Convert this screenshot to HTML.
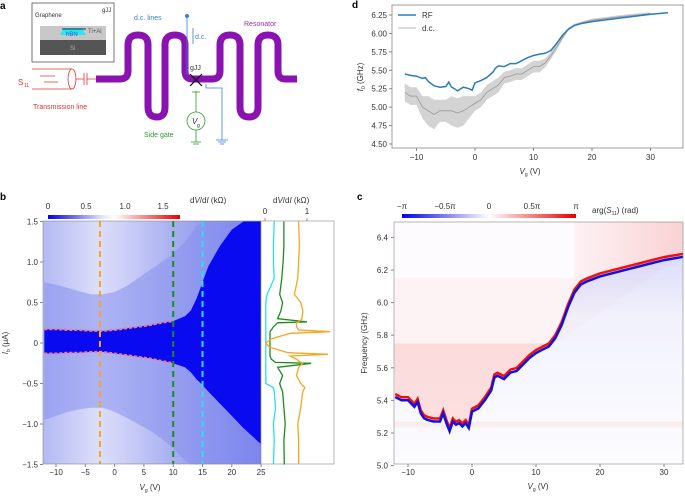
<!DOCTYPE html>
<html><head><meta charset="utf-8"><style>
body{margin:0;background:#fff;}
svg{display:block;font-family:"Liberation Sans",sans-serif;}
text{font-size:8px;fill:#333;}
</style></head><body>
<svg id="fig" width="685" height="497" viewBox="0 0 685 497">
<defs>
<linearGradient id="cbB" x1="0" x2="1"><stop offset="0" stop-color="#0000e8"/><stop offset="0.4" stop-color="#dfe0fa"/><stop offset="0.5" stop-color="#fff"/><stop offset="1" stop-color="#e80000"/></linearGradient>
<linearGradient id="cbC" x1="0" x2="1"><stop offset="0" stop-color="#0000e8"/><stop offset="0.5" stop-color="#fff"/><stop offset="1" stop-color="#e80000"/></linearGradient>
<linearGradient id="bgB" x1="0" x2="1"><stop offset="0" stop-color="#b3b9f3"/><stop offset="0.25" stop-color="#dcdefa"/><stop offset="0.35" stop-color="#d0d3f8"/><stop offset="0.6" stop-color="#a7aff0"/><stop offset="1" stop-color="#6f7aee"/></linearGradient>
<linearGradient id="pinkL" x1="0" y1="0" x2="0" y2="1"><stop offset="0" stop-color="#fbd6d6"/><stop offset="1" stop-color="#fde0e0"/></linearGradient>
<linearGradient id="pinkR" x1="0" y1="0" x2="1" y2="0"><stop offset="0" stop-color="#fdf2f3"/><stop offset="1" stop-color="#f9d2d4"/></linearGradient>
<linearGradient id="blueB" x1="0" y1="0" x2="0" y2="1"><stop offset="0" stop-color="#d4d8fb"/><stop offset="0.3" stop-color="#f0f1fd"/><stop offset="1" stop-color="#fcfcff"/></linearGradient>
</defs>

<g>
<text x="0" y="9" style="font-size:10px;font-weight:bold;fill:#000">a</text>
<rect x="32" y="3" width="82" height="59" fill="#fff" stroke="#555" stroke-width="0.8"/>
<rect x="40" y="26" width="66" height="15" fill="#c8c8c8"/>
<rect x="40" y="40" width="66" height="15" fill="#555"/>
<polygon points="60,35 64,28 82,28 86,35" fill="#2ee6f0"/>
<line x1="62" y1="29" x2="86" y2="29" stroke="#000" stroke-width="0.8"/>
<text x="35" y="17" style="font-size:6px">Graphene</text>
<text x="66" y="36" style="font-size:6px;fill:#1a5ad0">hBN</text>
<text x="88" y="33" style="font-size:6px;fill:#555">Ti+Al</text>
<text x="70" y="50" style="font-size:6px;fill:#aaa">Si</text>
<text x="102" y="12" style="font-size:6px">gJJ</text>
<path d="M96,79 L120,79 Q128,79 128,71 L128,45 Q128,35 138,35 Q148,35 148,45 L148,107 Q148,117 157,117 Q165,117 165,107 L165,45 Q165,35 175,35 Q185,35 185,45 L185,71 Q185,79 192,79 L212,79 Q220,79 220,71 L220,45 Q220,35 230,35 Q240,35 240,45 L240,107 Q240,117 249,117 Q258,117 258,107 L258,45 Q258,35 268,35 Q278,35 278,45 L278,71 Q278,79 285,79 L297,79" fill="none" stroke="#8a12b0" stroke-width="7"/>
<g stroke="#e83030" fill="none" stroke-width="0.8">
<path d="M32,69 L72,69 M32,89 L72,89"/><ellipse cx="72" cy="79" rx="4" ry="10"/>
<path d="M76,79 L84,79 M84,73 L84,85 M87,73 L87,85 M87,79 L96,79"/>
<path d="M40,76 L55,76 M44,82 L58,82"/>
</g>
<text x="18" y="85" style="font-size:8px;fill:#e83030">S</text><text x="24" y="87" style="font-size:5px;fill:#e83030">11</text>
<text x="33" y="109" style="font-size:7px;fill:#e83030">Transmission line</text>
<text x="134" y="20" style="font-size:7px;fill:#3a7ee0">d.c. lines</text>
<text x="244" y="26" style="font-size:7px;fill:#9a2ab8">Resonator</text>
<g stroke="#3a7ee0" fill="none" stroke-width="0.8"><circle cx="187" cy="16" r="1.6" fill="#3a7ee0"/><path d="M187,16 L187,75 M193,28 L193,44 M206,84 L206,88 L222,88 L222,140 M216,140 L228,140 M218,142 L226,142 M220,144 L224,144"/></g>
<text x="195" y="39" style="font-size:7px;fill:#3a7ee0">d.c.</text>
<text x="190" y="70" style="font-size:7px">gJJ</text>
<path d="M190,74 L202,86 M202,74 L190,86" stroke="#000" stroke-width="1.2"/>
<g stroke="#2a9a2a" fill="none" stroke-width="0.8"><path d="M196,91 L196,112 M192,92 L200,92 M196,130 L196,142 M191,142 L201,142 M193,144 L199,144"/><circle cx="196" cy="121" r="9"/></g>
<text x="192" y="124" style="font-size:8px;font-style:italic">V</text><text x="197" y="127" style="font-size:5px">g</text>
<text x="144" y="137" style="font-size:7px;fill:#2a9a2a">Side gate</text>
</g>

<g id="pd">
<text x="352" y="8" style="font-size:10px;font-weight:bold;fill:#000">d</text>
<rect x="392" y="5" width="291" height="143" fill="none" stroke="#888" stroke-width="0.8"/>
</g>
<g id="pb">
<text x="0" y="200" style="font-size:10px;font-weight:bold;fill:#000">b</text>
</g>
<g id="pc">
<text x="357" y="200" style="font-size:10px;font-weight:bold;fill:#000">c</text>
</g>
</svg>
<script>
const rfVg = [-12,-11,-10,-9,-8.5,-8,-7,-6,-5,-4.5,-4,-3.5,-3,-2,-1,-0.5,0,1,2,3,3.5,4,5,6,7,8,9,10,11,12,13,14,15,16,17,18,20,25,30,33];
const rfF  = [5.45,5.43,5.42,5.39,5.40,5.35,5.29,5.27,5.28,5.34,5.27,5.25,5.22,5.27,5.25,5.23,5.33,5.36,5.40,5.47,5.53,5.56,5.55,5.59,5.59,5.63,5.67,5.70,5.72,5.73,5.77,5.87,5.98,6.06,6.11,6.13,6.16,6.21,6.26,6.28];
const dcVg = [-12,-11,-10,-9,-8,-7,-6,-5,-4,-3,-2,-1,0,1,2,3,4,5,6,7,8,9,10,11,12,13,14,15,16,17,18,20,25,30];
const dcF  = [5.20,5.15,5.15,5.00,4.95,4.90,4.95,4.95,4.95,4.92,4.95,5.00,5.05,5.10,5.20,5.25,5.30,5.40,5.42,5.45,5.45,5.50,5.55,5.55,5.60,5.70,5.82,5.95,6.06,6.11,6.14,6.18,6.23,6.27];
const dcW  = [0.12,0.12,0.12,0.15,0.2,0.2,0.15,0.15,0.2,0.2,0.2,0.15,0.1,0.1,0.1,0.1,0.1,0.08,0.08,0.08,0.08,0.08,0.08,0.08,0.06,0.05,0.04,0.03,0.02,0.02,0.02,0.02,0.02,0.02];
const dTicksX = [-10,0,10,20,30];
const dTicksY = [4.50,4.75,5.00,5.25,5.50,5.75,6.00,6.25];
const gapVg  = [-12,-10,-8,-6,-4,-2,0,2,4,6,8,10,12,13,14,15,16,18,20,22,25];
const gapTop = [0.17,0.17,0.16,0.16,0.15,0.15,0.16,0.18,0.2,0.22,0.25,0.27,0.33,0.4,0.55,0.75,0.95,1.2,1.4,1.5,1.5];
const gapBot = [-0.13,-0.13,-0.12,-0.12,-0.11,-0.11,-0.13,-0.15,-0.17,-0.19,-0.22,-0.25,-0.3,-0.36,-0.45,-0.52,-0.6,-0.75,-0.9,-1.05,-1.25];
const bandTop = [0.75,0.72,0.68,0.64,0.6,0.6,0.63,0.7,0.8,0.9,1.0,1.1,1.25,1.35,1.45,1.5,1.5,1.5,1.5,1.5,1.5];
const bandBot = [-0.95,-0.9,-0.85,-0.82,-0.8,-0.8,-0.85,-0.92,-1.0,-1.08,-1.18,-1.3,-1.45,-1.5,-1.5,-1.5,-1.5,-1.5,-1.5,-1.5,-1.5];
const bTicksX = [-10,-5,0,5,10,15,20,25];
const bTicksY = [-1.5,-1.0,-0.5,0,0.5,1.0,1.5];
const cutVgs = [-2.5,10,15];
const cutIb   = [1.5,1.2,1.0,0.8,0.6,0.5,0.4,0.3,0.26,0.25,0.2,0.16,0.14,0.12,0.05,0,-0.05,-0.12,-0.14,-0.16,-0.2,-0.24,-0.25,-0.3,-0.4,-0.5,-0.55,-0.6,-0.8,-1.0,-1.2,-1.5];
const cutCyan = [0.22,0.2,0.2,0.22,0.05,0.02,0.02,0.02,0.02,0.02,0.02,0.02,0.02,0.02,0.02,0.02,0.02,0.02,0.02,0.02,0.02,0.02,0.02,0.02,0.02,0.02,0.2,0.22,0.25,0.2,0.22,0.2];
const cutGreen= [0.45,0.45,0.43,0.4,0.35,0.42,0.38,0.3,1.0,0.3,0.2,0.15,0.12,0.12,0.12,0.12,0.12,0.12,0.12,0.12,0.15,0.25,1.1,0.3,0.42,0.35,0.38,0.42,0.45,0.48,0.45,0.46];
const cutOrange=[0.8,0.82,0.8,0.78,0.7,0.85,0.9,0.88,0.8,0.75,0.75,0.8,1.55,0.6,0.15,0.02,0.1,0.55,1.5,0.6,0.75,0.85,0.9,0.8,0.75,0.85,0.95,0.9,0.85,0.78,0.8,0.8];
const cTicksX = [-10,0,10,20,30];
const cTicksY = [5.0,5.2,5.4,5.6,5.8,6.0,6.2,6.4];
const resVg = [-12,-11,-10,-9,-8.5,-8,-7.5,-7,-6,-5,-4.5,-4,-3.5,-3,-2.5,-2,-1.5,-1,-0.5,0,1,2,3,3.5,4,5,6,7,8,9,10,11,12,13,14,15,16,17,18,20,25,30,33];
const resF  = [5.43,5.41,5.41,5.37,5.40,5.33,5.30,5.29,5.28,5.28,5.33,5.27,5.22,5.28,5.26,5.27,5.25,5.27,5.24,5.34,5.36,5.41,5.47,5.55,5.56,5.54,5.58,5.59,5.63,5.67,5.70,5.72,5.74,5.79,5.87,5.98,6.07,6.12,6.14,6.17,6.22,6.27,6.29];

const NS="http://www.w3.org/2000/svg";
function mk(parent,tag,attrs,txt){const e=document.createElementNS(NS,tag);for(const k in attrs)e.setAttribute(k,attrs[k]);if(txt!==undefined)e.textContent=txt;parent.appendChild(e);return e;}
function pathFrom(xs,ys,sx,sy){return xs.map((v,i)=>(i?'L':'M')+sx(v).toFixed(1)+','+sy(ys[i]).toFixed(1)).join(' ');}

(function(){
const g=document.getElementById('pd');
const sx=v=>475+v*5.85, sy=f=>15+(6.25-f)*73.7;
let up=dcVg.map((v,i)=>sx(v).toFixed(1)+','+sy(dcF[i]+dcW[i]).toFixed(1));
let dn=dcVg.map((v,i)=>sx(v).toFixed(1)+','+sy(dcF[i]-dcW[i]).toFixed(1)).reverse();
let band=mk(g,'polygon',{points:up.concat(dn).join(' '),fill:'#d3d3d3'});


let dcl=mk(g,'path',{d:pathFrom(dcVg,dcF,sx,sy),fill:'none',stroke:'#999','stroke-width':0.8});


let rf=mk(g,'path',{d:pathFrom(rfVg,rfF,sx,sy),fill:'none',stroke:'#2b7bbd','stroke-width':1.5});


dTicksX.forEach(v=>{mk(g,'line',{x1:sx(v),x2:sx(v),y1:148,y2:151,stroke:'#888'});let t=mk(g,'text',{x:sx(v),y:160,'text-anchor':'middle'},String(v).replace('-','−'));});
dTicksY.forEach(v=>{mk(g,'line',{x1:389,x2:392,y1:sy(v),y2:sy(v),stroke:'#888'});let t=mk(g,'text',{x:387,y:sy(v)+3,'text-anchor':'end'},v.toFixed(2));});
let xt=mk(g,'text',{x:530,y:174,'text-anchor':'middle'});xt.innerHTML='<tspan font-style="italic">V</tspan><tspan style="font-size:5px" dy="2">g</tspan><tspan dy="-2"> (V)</tspan>';

let yt=mk(g,'text',{transform:'translate(363,77) rotate(-90)','text-anchor':'middle'});yt.innerHTML='<tspan font-style="italic">f</tspan><tspan style="font-size:5px" dy="2">0</tspan><tspan dy="-2"> (GHz)</tspan>';

let l1=mk(g,'line',{x1:398,x2:416,y1:15,y2:15,stroke:'#2b7bbd','stroke-width':1.5});
mk(g,'text',{x:422,y:18},'RF');
let l2=mk(g,'line',{x1:398,x2:416,y1:28,y2:28,stroke:'#bbb','stroke-width':1});
mk(g,'text',{x:422,y:31},'d.c.');
})();

(function(){
const g=document.getElementById('pb');
const sx=v=>56+(v+10)*5.86, sy=i=>343-i*81;
const L=43,R=261,T=221,B=464;
let cb=mk(g,'rect',{x:48,y:215,width:132,height:4,fill:'url(#cbB)'});
[[0,48],[0.5,86],[1.0,125],[1.5,163]].forEach(p=>mk(g,'text',{x:p[1],y:209,'text-anchor':'middle'},p[0]===0?'0':p[0].toFixed(1)));
let ct=mk(g,'text',{x:190,y:203});ct.innerHTML='d<tspan font-style="italic">V</tspan>/d<tspan font-style="italic">I</tspan> (kΩ)';

let hm=mk(g,'rect',{x:L,y:T,width:R-L,height:B-T,fill:'url(#bgB)'});
let bt=gapVg.map((v,i)=>sx(v).toFixed(1)+','+sy(bandTop[i]).toFixed(1));
let bb=gapVg.map((v,i)=>sx(v).toFixed(1)+','+sy(bandBot[i]).toFixed(1)).reverse();
let dband=mk(g,'polygon',{points:bt.concat(bb).join(' '),fill:'#8690ee',opacity:0.55});

let up=gapVg.map((v,i)=>sx(v).toFixed(1)+','+sy(Math.min(gapTop[i],1.5)).toFixed(1));
let dn=gapVg.map((v,i)=>sx(v).toFixed(1)+','+sy(gapBot[i]).toFixed(1)).reverse();
let gap=mk(g,'polygon',{points:up.concat([R+','+T,R+','+sy(gapBot[gapBot.length-1])]).concat(dn).join(' '),fill:'#0a0af0'});

let et=mk(g,'path',{d:pathFrom(gapVg.slice(0,12),gapTop.slice(0,12),sx,sy),fill:'none',stroke:'#f07a8a','stroke-width':2,'stroke-dasharray':'3 2'});

let eb=mk(g,'path',{d:pathFrom(gapVg.slice(0,12),gapBot.slice(0,12),sx,sy),fill:'none',stroke:'#f07a8a','stroke-width':2,'stroke-dasharray':'3 2'});

const cols=['#f5a623','#1e8a1e','#25e0f0'];
cutVgs.forEach((v,k)=>{let ln=mk(g,'line',{x1:sx(v),x2:sx(v),y1:T,y2:B,stroke:cols[k],'stroke-width':2,'stroke-dasharray':'6 4'});});
mk(g,'rect',{x:L,y:T,width:R-L,height:B-T,fill:'none',stroke:'#888','stroke-width':0.6});
bTicksX.forEach(v=>{mk(g,'line',{x1:sx(v),x2:sx(v),y1:B,y2:B+3,stroke:'#888'});let t=mk(g,'text',{x:sx(v),y:B+11,'text-anchor':'middle'},String(v).replace('-','−'));});
bTicksY.forEach(v=>{mk(g,'line',{x1:L-3,x2:L,y1:sy(v),y2:sy(v),stroke:'#888'});let t=mk(g,'text',{x:L-5,y:sy(v)+3,'text-anchor':'end'},v===0?'0':v.toFixed(1).replace('-','−'));});
let xt=mk(g,'text',{x:150,y:490,'text-anchor':'middle'});xt.innerHTML='<tspan font-style="italic">V</tspan><tspan style="font-size:5px" dy="2">g</tspan><tspan dy="-2"> (V)</tspan>';

let yt=mk(g,'text',{transform:'translate(8,343) rotate(-90)','text-anchor':'middle'});yt.innerHTML='<tspan font-style="italic">I</tspan><tspan style="font-size:5px" dy="2">b</tspan><tspan dy="-2"> (μA)</tspan>';

const cx=r=>265+r*42;
mk(g,'rect',{x:261,y:T,width:73,height:B-T,fill:'#fff',stroke:'#888','stroke-width':0.6});
mk(g,'line',{x1:cx(0),x2:cx(0),y1:T-3,y2:T,stroke:'#888'});mk(g,'line',{x1:cx(1),x2:cx(1),y1:T-3,y2:T,stroke:'#888'});
mk(g,'text',{x:cx(0),y:214,'text-anchor':'middle'},'0');mk(g,'text',{x:cx(1),y:214,'text-anchor':'middle'},'1');
let ct2=mk(g,'text',{x:273,y:203});ct2.innerHTML='d<tspan font-style="italic">V</tspan>/d<tspan font-style="italic">I</tspan> (kΩ)';

[[cutCyan,'#25e0f0','linecut-cyan'],[cutGreen,'#1e8a1e','linecut-green'],[cutOrange,'#f5a623','linecut-orange']].forEach(s=>{let p=mk(g,'path',{d:cutIb.map((ib,i)=>(i?'L':'M')+cx(s[0][i]).toFixed(1)+','+sy(ib).toFixed(1)).join(' '),fill:'none',stroke:s[1],'stroke-width':1.3});});
})();

(function(){
const g=document.getElementById('pc');
const sx=v=>472+v*6.4, sy=f=>433-(f-5.2)*163;
const L=394,R=683,T=222,B=464;
let cb=mk(g,'rect',{x:402,y:214,width:174,height:4,fill:'url(#cbC)'});
[['−π',402],['−0.5π',445],['0',489],['0.5π',532],['π',576]].forEach(p=>mk(g,'text',{x:p[1],y:209,'text-anchor':'middle'},p[0]));
let ct=mk(g,'text',{x:592,y:213});ct.innerHTML='arg(<tspan font-style="italic">S</tspan><tspan style="font-size:5px" dy="2">11</tspan><tspan dy="-2">) (rad)</tspan>';

mk(g,'rect',{x:L,y:T,width:R-L,height:B-T,fill:'#fdfbfd'});
let up=resVg.map((v,i)=>sx(v).toFixed(1)+','+sy(resF[i]).toFixed(1));
mk(g,'rect',{x:L,y:sy(6.15),width:R-L,height:sy(5.75)-sy(6.15),fill:'#fdf0f1',opacity:0.8});
let pr=mk(g,'polygon',{points:sx(16)+','+T+' '+R+','+T+' '+R+','+sy(6.29)+' '+sx(25)+','+sy(6.22)+' '+sx(18)+','+sy(6.14)+' '+sx(16)+','+sy(6.07),fill:'url(#pinkR)'});

let pk=mk(g,'polygon',{points:up.join(' ')+' '+sx(13)+','+sy(5.75)+' '+L+','+sy(5.75),fill:'url(#pinkL)'});

let bl=mk(g,'polygon',{points:up.join(' ')+' '+R+','+B+' '+L+','+B,fill:'url(#blueB)',opacity:0.85});

mk(g,'rect',{x:L,y:sy(5.27),width:R-L,height:6,fill:'#fbe8ea',opacity:0.7});
let rl=mk(g,'path',{d:pathFrom(resVg,resF,sx,sy),fill:'none',stroke:'#f01010','stroke-width':2.5,transform:'translate(0,-1.5)'});

let bb=mk(g,'path',{d:pathFrom(resVg,resF,sx,sy),fill:'none',stroke:'#1010e0','stroke-width':2.5,transform:'translate(0,1.5)'});

mk(g,'rect',{x:L,y:T,width:R-L,height:B-T,fill:'none',stroke:'#888','stroke-width':0.6});
cTicksX.forEach(v=>{mk(g,'line',{x1:sx(v),x2:sx(v),y1:B,y2:B+3,stroke:'#888'});let t=mk(g,'text',{x:sx(v),y:B+11,'text-anchor':'middle'},String(v).replace('-','−'));});
cTicksY.forEach(v=>{mk(g,'line',{x1:L-3,x2:L,y1:sy(v),y2:sy(v),stroke:'#888'});let t=mk(g,'text',{x:L-6,y:sy(v)+3,'text-anchor':'end'},v.toFixed(1));});
let xt=mk(g,'text',{x:538,y:489,'text-anchor':'middle'});xt.innerHTML='<tspan font-style="italic">V</tspan><tspan style="font-size:5px" dy="2">g</tspan><tspan dy="-2"> (V)</tspan>';

let yt=mk(g,'text',{transform:'translate(367,343) rotate(-90)','text-anchor':'middle'},'Frequency (GHz)');

})();
</script>
</body></html>
